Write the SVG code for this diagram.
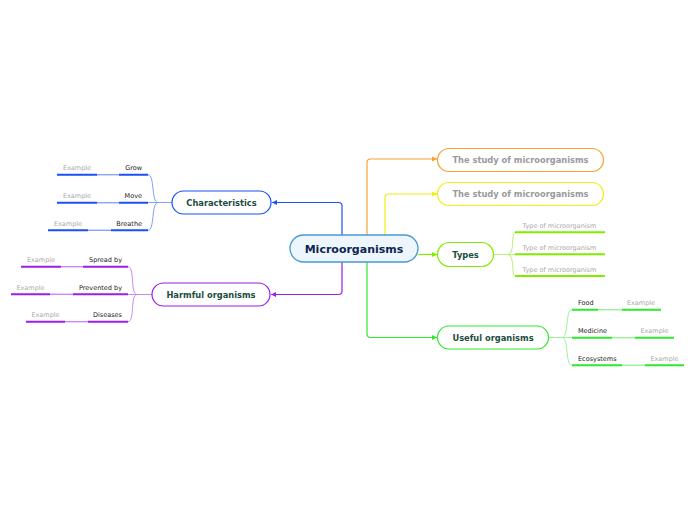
<svg xmlns="http://www.w3.org/2000/svg" width="696" height="520" viewBox="0 0 696 520">
<style>
text{font-family:"DejaVu Sans",Verdana,sans-serif}
.nl{font-size:8.3px;font-weight:bold;fill:#1b4d3e;text-anchor:middle}
.st{font-size:8.3px;font-weight:bold;fill:#9a9a9a;text-anchor:middle}
.lb{font-size:6.5px;fill:#222}
.ex{font-size:6.5px;fill:#aaaaaa;text-anchor:middle}
.ty{font-size:6.5px;fill:#aaaaaa}
.c{fill:none;stroke-width:1.2}
.u{fill:none;stroke-width:2}
.l{fill:none;stroke-width:1.4}
.b{fill:none;stroke-width:1}
</style>
<defs>
<marker id="aB" markerUnits="userSpaceOnUse" markerWidth="6" markerHeight="6" refX="5" refY="3" orient="auto"><path d="M0,0.5L5,3L0,5.5z" fill="#1a50f5"/></marker>
<marker id="aP" markerUnits="userSpaceOnUse" markerWidth="6" markerHeight="6" refX="5" refY="3" orient="auto"><path d="M0,0.5L5,3L0,5.5z" fill="#9a1fe8"/></marker>
<marker id="aO" markerUnits="userSpaceOnUse" markerWidth="6" markerHeight="6" refX="5" refY="3" orient="auto"><path d="M0,0.5L5,3L0,5.5z" fill="#f8a030"/></marker>
<marker id="aY" markerUnits="userSpaceOnUse" markerWidth="6" markerHeight="6" refX="5" refY="3" orient="auto"><path d="M0,0.5L5,3L0,5.5z" fill="#eeee10"/></marker>
<marker id="aL" markerUnits="userSpaceOnUse" markerWidth="6" markerHeight="6" refX="5" refY="3" orient="auto"><path d="M0,0.5L5,3L0,5.5z" fill="#80ec00"/></marker>
<marker id="aG" markerUnits="userSpaceOnUse" markerWidth="6" markerHeight="6" refX="5" refY="3" orient="auto"><path d="M0,0.5L5,3L0,5.5z" fill="#2ee82e"/></marker>
</defs>
<rect width="696" height="520" fill="#ffffff"/>
<g id="connectors">
<path class="c" stroke="#1a50f5" d="M342,235V206Q342,202.5 338.5,202.5H272" marker-end="url(#aB)"/>
<path class="c" stroke="#9a1fe8" d="M342,262V291Q342,294.5 338.5,294.5H271" marker-end="url(#aP)"/>
<path class="c" stroke="#f8a030" d="M367,235V162.5Q367,159 370.5,159H437" marker-end="url(#aO)"/>
<path class="c" stroke="#eeee10" d="M385,235V197.5Q385,194 388.5,194H437" marker-end="url(#aY)"/>
<path class="c" stroke="#80ec00" d="M418,254.5H437" marker-end="url(#aL)"/>
<path class="c" stroke="#2ee82e" d="M367,262V334Q367,337.5 370.5,337.5H437" marker-end="url(#aG)"/>
</g>
<g id="center">
<rect x="290" y="235" width="128" height="27" rx="13.5" fill="#eef6fd" stroke="#4a98d0" stroke-width="1.3"/>
<text x="354" y="253" font-size="11" font-weight="bold" fill="#0e2550" text-anchor="middle">Microorganisms</text>
</g>
<g id="study1">
<rect x="437.5" y="148.5" width="166" height="23" rx="11.5" fill="#fff" stroke="#f8a030" stroke-width="1.2"/>
<text class="st" x="520.5" y="163">The study of microorganisms</text>
</g>
<g id="study2">
<rect x="437.5" y="182.5" width="166" height="23" rx="11.5" fill="#fff" stroke="#eeee10" stroke-width="1.2"/>
<text class="st" x="520.5" y="197">The study of microorganisms</text>
</g>
<g id="characteristics">
<path class="b" stroke="#7f9ff8" d="M172,202.5H158C151,202.5 155,174.7 148,174.7M158,202.5H148M158,202.5C151,202.5 155,230.3 148,230.3"/>
<rect x="172" y="191" width="99" height="23" rx="11.5" fill="#fff" stroke="#1a50f5" stroke-width="1.2"/>
<text class="nl" x="221.5" y="205.5">Characteristics</text>
<g id="grow">
<path class="u" stroke="#1a50f5" d="M119,174.7H148M57,174.7H97"/>
<path class="l" stroke="#8aa5f8" d="M97,174.7H119"/>
<text class="lb" x="142" y="170" text-anchor="end">Grow</text>
<text class="ex" x="77" y="170">Example</text>
</g>
<g id="move">
<path class="u" stroke="#1a50f5" d="M119,202.7H148M57,202.7H97"/>
<path class="l" stroke="#8aa5f8" d="M97,202.7H119"/>
<text class="lb" x="142" y="198" text-anchor="end">Move</text>
<text class="ex" x="77" y="198">Example</text>
</g>
<g id="breathe">
<path class="u" stroke="#1a50f5" d="M111,230.3H148M48,230.3H88"/>
<path class="l" stroke="#8aa5f8" d="M88,230.3H111"/>
<text class="lb" x="142" y="225.5" text-anchor="end">Breathe</text>
<text class="ex" x="68" y="225.5">Example</text>
</g>
</g>
<g id="harmful">
<path class="b" stroke="#c98af5" d="M152,294.5H137C130,294.5 135,266.7 128,266.7M137,294.5H128M137,294.5C130,294.5 135,321.7 128,321.7"/>
<rect x="152" y="283" width="118" height="23" rx="11.5" fill="#fff" stroke="#9a1fe8" stroke-width="1.2"/>
<text class="nl" x="211" y="297.5">Harmful organisms</text>
<g id="spread">
<path class="u" stroke="#9a1fe8" d="M83,266.7H128M21,266.7H61"/>
<path class="l" stroke="#c98af5" d="M61,266.7H83"/>
<text class="lb" x="122" y="262" text-anchor="end">Spread by</text>
<text class="ex" x="41" y="262">Example</text>
</g>
<g id="prevented">
<path class="u" stroke="#9a1fe8" d="M73,294.3H128M11,294.3H50"/>
<path class="l" stroke="#c98af5" d="M50,294.3H73"/>
<text class="lb" x="122" y="289.5" text-anchor="end">Prevented by</text>
<text class="ex" x="30.5" y="289.5">Example</text>
</g>
<g id="diseases">
<path class="u" stroke="#9a1fe8" d="M88,321.7H128M26,321.7H65"/>
<path class="l" stroke="#c98af5" d="M65,321.7H88"/>
<text class="lb" x="122" y="317" text-anchor="end">Diseases</text>
<text class="ex" x="45.5" y="317">Example</text>
</g>
</g>
<g id="types">
<path class="b" stroke="#b8f27a" d="M493,254.5H508C515,254.5 511,232.3 515,232.3M508,254.5H515M508,254.5C515,254.5 511,276 515,276"/>
<rect x="437.5" y="242.5" width="56" height="24" rx="12" fill="#fff" stroke="#80ec00" stroke-width="1.2"/>
<text class="nl" x="465.5" y="257.5">Types</text>
<path class="u" stroke="#80ec00" d="M515,232.3H605M515,254.3H605M515,276H605"/>
<text class="ty" x="522.5" y="228">Type of microorganism</text>
<text class="ty" x="522.5" y="250">Type of microorganism</text>
<text class="ty" x="522.5" y="271.5">Type of microorganism</text>
</g>
<g id="useful">
<path class="b" stroke="#9af29a" d="M548,337.5H562C569,337.5 565,309.7 572,309.7M562,337.5H572M562,337.5C569,337.5 565,365.3 572,365.3"/>
<rect x="437.5" y="326" width="111" height="23" rx="11.5" fill="#fff" stroke="#2ee82e" stroke-width="1.2"/>
<text class="nl" x="493" y="340.5">Useful organisms</text>
<g id="food">
<path class="u" stroke="#2ee82e" d="M572,309.7H598M622,309.7H661"/>
<path class="l" stroke="#9af29a" d="M598,309.7H622"/>
<text class="lb" x="578" y="305">Food</text>
<text class="ex" x="641" y="305">Example</text>
</g>
<g id="medicine">
<path class="u" stroke="#2ee82e" d="M572,337.7H612M635,337.7H674"/>
<path class="l" stroke="#9af29a" d="M612,337.7H635"/>
<text class="lb" x="578" y="333">Medicine</text>
<text class="ex" x="654.5" y="333">Example</text>
</g>
<g id="ecosystems">
<path class="u" stroke="#2ee82e" d="M572,365.3H622M645,365.3H684"/>
<path class="l" stroke="#9af29a" d="M622,365.3H645"/>
<text class="lb" x="578" y="360.5">Ecosystems</text>
<text class="ex" x="664.5" y="360.5">Example</text>
</g>
</g>
</svg>
